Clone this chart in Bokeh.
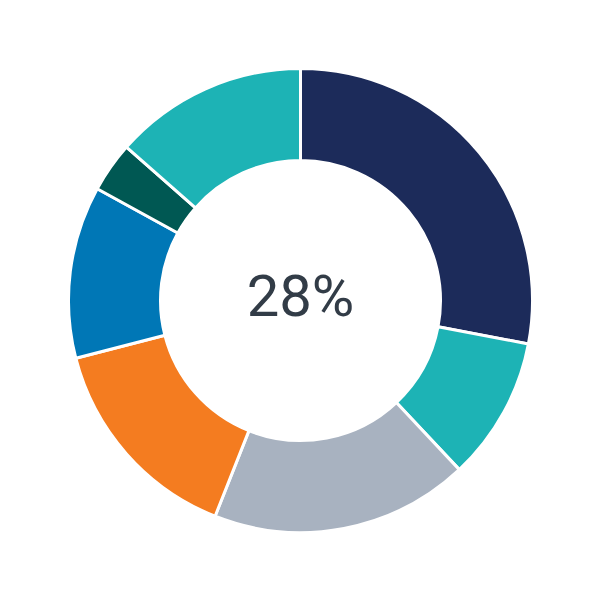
import math

from bokeh.core.properties import value
from bokeh.embed import file_html
from bokeh.models import ColumnDataSource
from bokeh.plotting import figure
from bokeh.resources import INLINE

# Data
shares = [28, 10, 18, 15, 12, 3.5, 13.5]
colors = ["#1c2b5a", "#1db3b5", "#a8b2c0", "#f47c20", "#0077b6", "#005853", "#1db3b5"]
center_label = "28%"

# Angles: clockwise from 12 o'clock
total = float(sum(shares))
starts, ends = [], []
acc = 0.0
for s in shares:
    a0 = acc / total * 2 * math.pi
    acc += s
    a1 = acc / total * 2 * math.pi
    starts.append(math.pi / 2 - a1)
    ends.append(math.pi / 2 - a0)

source = ColumnDataSource(data=dict(start=starts, end=ends, color=colors, share=shares))

p = figure(width=600, height=600, x_range=(-300, 300), y_range=(-300, 300),
           output_backend="svg", toolbar_location=None, tools="",
           min_border=0)
p.axis.visible = False
p.grid.visible = False
p.outline_line_color = None
p.background_fill_color = "white"

p.annular_wedge(x=0, y=0, inner_radius=140, outer_radius=232,
                start_angle="start", end_angle="end",
                fill_color="color", line_color="white", line_width=3,
                source=source)

p.text(x=[0], y=[5], text=[center_label], text_align="center",
       text_baseline="middle", text_font=value("Roboto"),
       text_font_size="58px", text_color="#323c47")

open("out.html", "w").write(file_html(p, INLINE))
